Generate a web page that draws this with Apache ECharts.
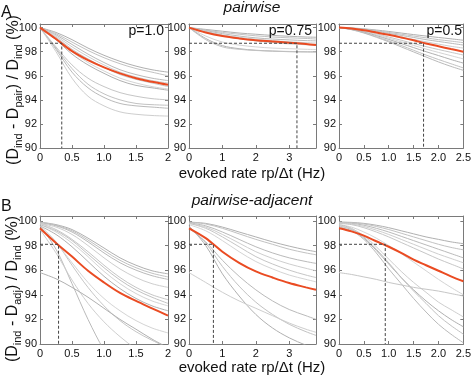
<!DOCTYPE html>
<html>
<head>
<meta charset="utf-8">
<script src="https://cdn.jsdelivr.net/npm/echarts@6/dist/echarts.min.js"></script>
<style>
  html, body { margin: 0; padding: 0; background: #fff; }
  #chart { width: 474px; height: 377px; }
</style>
</head>
<body>
<div id="chart"></div>
<script>
// x sample points
var x2 = [0, 0.25, 0.5, 0.75, 1, 1.25, 1.5, 1.75, 2];
var x38 = [0, 0.5, 1, 1.5, 2, 2.5, 3, 3.5, 3.8];
var x25 = [0, 0.25, 0.5, 0.75, 1, 1.25, 1.5, 1.75, 2, 2.25, 2.5];

// pairwise, p=1.0
var grayA1 = [
  [100, 99.6, 99.0, 98.3, 97.7, 97.2, 96.8, 96.5, 96.3],
  [100, 99.5, 98.8, 98.1, 97.5, 97.0, 96.6, 96.3, 96.0],
  [100, 99.4, 98.6, 97.8, 97.1, 96.5, 96.1, 95.8, 95.6],
  [100, 99.3, 98.4, 97.6, 96.9, 96.3, 95.9, 95.6, 95.4],
  [100, 99.2, 98.2, 97.4, 96.7, 96.1, 95.7, 95.4, 95.1],
  [100, 99.1, 98.0, 97.1, 96.4, 95.8, 95.4, 95.1, 94.9],
  [100, 99.0, 97.8, 96.9, 96.2, 95.6, 95.2, 95.0, 94.8],
  [100, 98.3, 96.6, 95.3, 94.5, 94.0, 93.7, 93.6, 93.55],
  [100, 98.2, 96.3, 95.0, 94.2, 93.7, 93.5, 93.4, 93.3],
  [100, 98.0, 95.8, 94.3, 93.5, 93.0, 92.8, 92.7, 92.65],
  [100, 98.4, 96.9, 95.8, 95.1, 94.6, 94.3, 94.1, 94.0]
];
var redA1 = [100, 99.05, 98.05, 97.3, 96.7, 96.2, 95.8, 95.5, 95.25];

// pairwise, p=0.75
var grayA2 = [
  [100, 99.85, 99.7, 99.55, 99.45, 99.35, 99.28, 99.22, 99.2],
  [100, 99.8, 99.6, 99.45, 99.32, 99.22, 99.15, 99.1, 99.05],
  [100, 99.75, 99.5, 99.3, 99.15, 99.05, 98.98, 98.92, 98.9],
  [100, 99.7, 99.4, 99.2, 99.05, 98.92, 98.82, 98.75, 98.72],
  [100, 99.65, 99.35, 99.1, 98.9, 98.75, 98.65, 98.58, 98.55],
  [100, 99.3, 98.8, 98.55, 98.4, 98.3, 98.25, 98.2, 98.18],
  [100, 99.1, 98.5, 98.25, 98.12, 98.05, 98.0, 97.98, 97.97],
  [100, 99.0, 98.4, 98.2, 98.1, 98.05, 98.02, 98.0, 98.0]
];
var redA2 = [100, 99.6, 99.3, 99.1, 98.95, 98.85, 98.75, 98.63, 98.55];

// pairwise, p=0.5
var grayA3 = [
  [100, 99.97, 99.9, 99.8, 99.68, 99.55, 99.42, 99.3, 99.18, 99.07, 98.95],
  [100, 99.96, 99.87, 99.75, 99.6, 99.45, 99.3, 99.15, 99.0, 98.88, 98.75],
  [100, 99.95, 99.85, 99.7, 99.52, 99.35, 99.18, 99.0, 98.85, 98.7, 98.55],
  [100, 99.93, 99.8, 99.62, 99.42, 99.22, 99.02, 98.82, 98.63, 98.45, 98.3],
  [100, 99.9, 99.72, 99.48, 99.22, 98.95, 98.68, 98.42, 98.18, 97.95, 97.72],
  [100, 99.88, 99.68, 99.42, 99.12, 98.82, 98.52, 98.22, 97.94, 97.67, 97.4],
  [100, 99.86, 99.63, 99.34, 99.02, 98.68, 98.34, 98.0, 97.68, 97.35, 97.05],
  [100, 99.84, 99.58, 99.26, 98.9, 98.52, 98.12, 97.72, 97.35, 97.0, 96.65],
  [100, 99.83, 99.55, 99.2, 98.82, 98.4, 97.98, 97.56, 97.15, 96.78, 96.45]
];
var redA3 = [100, 99.92, 99.78, 99.6, 99.4, 99.18, 98.95, 98.68, 98.45, 98.22, 98.0];

// pairwise-adjacent, p=1.0
var grayB1 = [
  [99.9, 99.7, 99.3, 98.6, 97.8, 97.0, 96.4, 95.95, 95.7],
  [99.9, 99.65, 99.2, 98.45, 97.6, 96.8, 96.2, 95.75, 95.45],
  [99.85, 99.6, 99.1, 98.3, 97.4, 96.6, 96.0, 95.55, 95.25],
  [99.8, 99.5, 98.9, 98.0, 97.0, 96.1, 95.4, 94.9, 94.6],
  [99.8, 99.3, 98.5, 97.5, 96.4, 95.4, 94.6, 94.0, 93.6],
  [99.7, 99.1, 98.2, 97.1, 95.9, 94.9, 94.1, 93.5, 93.1],
  [99.6, 98.9, 97.9, 96.7, 95.5, 94.5, 93.7, 93.1, 92.7],
  [99.7, 99.2, 98.4, 97.3, 96.2, 95.2, 94.4, 93.8, 93.3],
  [99.6, 97.7, 94.9, 92.0, 89.5, 87.5, 86.0, 85.0, 84.3],
  [99.3, 97.4, 95.2, 93.3, 91.8, 90.6, 89.6, 88.8, 88.2],
  [99.6, 98.3, 96.4, 94.6, 93.1, 91.9, 91.0, 90.3, 89.7],
  [99.4, 98.2, 96.6, 95.0, 93.7, 92.7, 91.9, 91.3, 90.9],
  [95.8, 95.3, 94.6, 93.8, 92.9, 92.0, 91.2, 90.4, 89.7]
];
var redB1 = [99.4, 98.2, 97.1, 95.95, 95.0, 94.15, 93.5, 92.9, 92.3];

// pairwise-adjacent, p=0.75
var grayB2 = [
  [99.9, 99.8, 99.5, 99.1, 98.7, 98.3, 97.95, 97.65, 97.5],
  [99.9, 99.75, 99.4, 98.95, 98.5, 98.1, 97.7, 97.4, 97.25],
  [99.85, 99.6, 99.1, 98.5, 97.9, 97.4, 97.0, 96.7, 96.55],
  [99.8, 99.5, 98.9, 98.2, 97.5, 96.95, 96.5, 96.15, 95.95],
  [99.8, 99.4, 98.7, 97.9, 97.1, 96.5, 96.0, 95.6, 95.4],
  [99.7, 99.2, 98.4, 97.5, 96.7, 96.1, 95.6, 95.25, 95.05],
  [99.6, 98.0, 95.7, 93.9, 92.4, 91.3, 90.5, 89.9, 89.6],
  [99.5, 98.2, 96.3, 94.7, 93.4, 92.4, 91.6, 91.0, 90.7],
  [99.4, 98.3, 96.8, 95.5, 94.4, 93.5, 92.8, 92.3, 92.0],
  [95.8, 95.0, 94.2, 93.5, 92.9, 92.3, 91.7, 91.2, 90.95]
];
var redB2 = [99.4, 98.6, 97.5, 96.6, 95.9, 95.4, 94.95, 94.6, 94.4];

// pairwise-adjacent, p=0.5
var grayB3 = [
  [99.9, 99.88, 99.8, 99.65, 99.45, 99.2, 98.95, 98.7, 98.5, 98.3, 98.15],
  [99.9, 99.85, 99.75, 99.55, 99.3, 99.0, 98.7, 98.4, 98.1, 97.85, 97.65],
  [99.85, 99.8, 99.65, 99.4, 99.1, 98.75, 98.4, 98.05, 97.7, 97.35, 97.0],
  [99.85, 99.75, 99.55, 99.25, 98.9, 98.5, 98.1, 97.7, 97.3, 96.95, 96.6],
  [99.8, 99.7, 99.45, 99.1, 98.7, 98.25, 97.8, 97.35, 96.9, 96.5, 96.1],
  [99.7, 99.5, 99.1, 98.6, 98.0, 97.35, 96.65, 95.95, 95.25, 94.6, 94.0],
  [99.6, 99.3, 98.6, 97.6, 96.5, 95.4, 94.4, 93.5, 92.7, 92.0, 91.4],
  [99.7, 99.4, 98.7, 97.7, 96.6, 95.4, 94.3, 93.3, 92.3, 91.5, 90.8],
  [99.5, 99.2, 98.5, 97.4, 96.1, 94.9, 93.7, 92.6, 91.6, 90.8, 90.1],
  [99.6, 99.35, 98.8, 97.9, 96.9, 95.9, 95.0, 94.2, 93.4, 92.8, 92.2],
  [95.8, 95.65, 95.45, 95.25, 95.0, 94.8, 94.6, 94.45, 94.3, 94.1, 93.9]
];
var redB3 = [99.4, 99.15, 98.8, 98.35, 97.9, 97.4, 96.85, 96.4, 95.95, 95.5, 95.1];

// dashed guide crossings per panel (A1, A2, A3, B1, B2, B3)
var crossX = [0.34, 3.23, 1.70, 0.29, 0.73, 0.93];
var crossY = [98.7, 98.7, 98.7, 98.1, 98.1, 98.1];

var pLabels = ['p=1.0', 'p=0.75', 'p=0.5'];
var yTicks = [90, 92, 94, 96, 98, 100];

var chartDom = document.getElementById('chart');
var myChart = echarts.init(chartDom);

var FONT = '"Liberation Sans", Arial, Helvetica, sans-serif';
var axisColor = '#7a7a7a';
var grayColors = ['#b0b0b0', '#c2c2c2', '#bababa', '#cecece', '#c6c6c6', '#d4d4d4'];

var gridLeft = [40, 189, 339];
var gridWidth = [128, 127, 127];
var rowTop = [24, 216];
var rowHeight = [124, 128];
var rowMax = [100.3, 100.4];

var panelX = [x2, x38, x25, x2, x38, x25];
var panelGray = [grayA1, grayA2, grayA3, grayB1, grayB2, grayB3];
var panelRed = [redA1, redA2, redA3, redB1, redB2, redB3];
var panelXMax = [2, 3.8, 2.5, 2, 3.8, 2.5];
var panelXInt = [0.5, 1, 0.5, 0.5, 1, 0.5];

function xFmt(i) {
  var col = i % 3;
  return function (v) {
    if (col === 1) {
      return Math.abs(v - Math.round(v)) < 1e-6 ? String(Math.round(v)) : '';
    }
    if (Math.abs(v * 2 - Math.round(v * 2)) > 1e-6) return '';
    if (v === 0) return '0';
    if (col === 0 && v === 2) return '2';
    return v.toFixed(1);
  };
}

var grids = [], xAxes = [], yAxes = [], series = [];

for (var i = 0; i < 6; i++) {
  var row = Math.floor(i / 3), col = i % 3;
  grids.push({ left: gridLeft[col], width: gridWidth[col], top: rowTop[row], height: rowHeight[row] });
}

// main axes (0-5) and mirrored box axes (6-11)
for (var m = 0; m < 2; m++) {
  for (var i = 0; i < 6; i++) {
    var row = Math.floor(i / 3);
    xAxes.push({
      type: 'value', gridIndex: i, position: m ? 'top' : 'bottom',
      min: 0, max: panelXMax[i], interval: panelXInt[i],
      axisLine: { show: true, onZero: false, lineStyle: { color: axisColor, width: 1 } },
      axisTick: { show: true, inside: true, length: 3, lineStyle: { color: axisColor } },
      axisLabel: { show: !m, margin: 4, fontSize: 11, color: '#111', fontFamily: FONT, formatter: xFmt(i) },
      splitLine: { show: false }
    });
    yAxes.push({
      type: 'value', gridIndex: i, position: m ? 'right' : 'left',
      min: yTicks[0], max: rowMax[row], interval: 2,
      axisLine: { show: true, onZero: false, lineStyle: { color: axisColor, width: 1 } },
      axisTick: { show: true, inside: true, length: 3, lineStyle: { color: axisColor } },
      axisLabel: {
        show: !m, margin: 3, fontSize: 11, color: '#111', fontFamily: FONT,
        formatter: function (v) { return yTicks.indexOf(Math.round(v * 100) / 100) >= 0 ? String(v) : ''; }
      },
      splitLine: { show: false }
    });
  }
}

for (var i = 0; i < 6; i++) {
  var xs = panelX[i];
  panelGray[i].forEach(function (g, k) {
    series.push({
      type: 'line', xAxisIndex: i, yAxisIndex: i, symbol: 'none', smooth: 0.35,
      data: xs.map(function (x, j) { return [x, g[j]]; }),
      lineStyle: { color: grayColors[k % grayColors.length], width: 1 }, z: 2, silent: true
    });
  });
  series.push({
    type: 'line', xAxisIndex: i, yAxisIndex: i, symbol: 'none', smooth: 0.35,
    data: xs.map(function (x, j) { return [x, panelRed[i][j]]; }),
    lineStyle: { color: '#ea4b22', width: 2 }, z: 4, silent: true
  });
  series.push({
    type: 'line', xAxisIndex: i, yAxisIndex: i, symbol: 'none',
    data: [[0, crossY[i]], [crossX[i], crossY[i]], [crossX[i], yTicks[0]]],
    lineStyle: { color: '#444', width: 1, type: [3, 2] }, z: 5, silent: true
  });
}

function yTitle(x, y, sub2) {
  return {
    type: 'text', x: x, y: y, rotation: Math.PI / 2, z: 10,
    style: {
      text: '{a|(D}{s|ind}{a| - D}{s|' + sub2 + '}{a|) / D}{s|ind}{a| (%)}',
      align: 'center', verticalAlign: 'middle', fill: '#111',
      rich: {
        a: { fontSize: 16, fontFamily: FONT, verticalAlign: 'bottom', padding: [0, 0, 2, 0], fill: '#111' },
        s: { fontSize: 11, fontFamily: FONT, verticalAlign: 'bottom', fill: '#111' }
      }
    }
  };
}

var graphics = [
  { type: 'text', x: 1, y: 13, style: { text: 'A', font: '16px ' + FONT, fill: '#111', verticalAlign: 'middle' } },
  { type: 'text', x: 1, y: 207, style: { text: 'B', font: '16px ' + FONT, fill: '#111', verticalAlign: 'middle' } },
  { type: 'text', x: 252, y: 8, style: { text: 'pairwise', font: 'italic 15.5px ' + FONT, fill: '#111', align: 'center', verticalAlign: 'middle' } },
  { type: 'text', x: 252, y: 201, style: { text: 'pairwise-adjacent', font: 'italic 15.5px ' + FONT, fill: '#111', align: 'center', verticalAlign: 'middle' } },
  { type: 'text', x: 252, y: 174, style: { text: 'evoked rate rp/\u0394t (Hz)', font: '15px ' + FONT, fill: '#111', align: 'center', verticalAlign: 'middle' } },
  { type: 'text', x: 252, y: 368, style: { text: 'evoked rate rp/\u0394t (Hz)', font: '15px ' + FONT, fill: '#111', align: 'center', verticalAlign: 'middle' } },
  yTitle(15, 90, 'pair'),
  yTitle(14, 289, 'adj')
];
for (var c = 0; c < 3; c++) {
  graphics.push({
    type: 'text', x: gridLeft[c] + gridWidth[c] - 4, y: 31, z: 10,
    style: { text: pLabels[c], font: '14px ' + FONT, fill: '#111', align: 'right', verticalAlign: 'middle' }
  });
}

var option = {
  backgroundColor: '#fff',
  animation: false,
  grid: grids,
  xAxis: xAxes,
  yAxis: yAxes,
  series: series,
  graphic: graphics
};

option && myChart.setOption(option);

window.addEventListener('resize', function () {
  myChart.resize();
});
</script>
</body>
</html>
